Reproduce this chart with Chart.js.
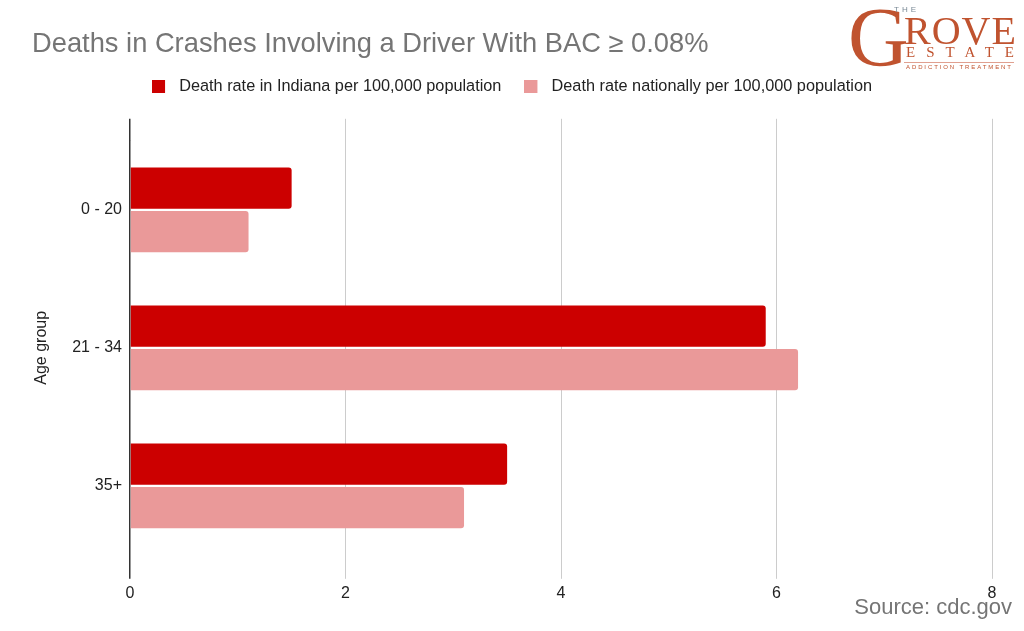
<!DOCTYPE html>
<html>
<head>
<meta charset="utf-8">
<script src="https://cdn.jsdelivr.net/npm/chart.js@4.4.1/dist/chart.umd.min.js"></script>
<style>
  html, body { margin: 0; padding: 0; background: #fff; }
  #wrap { position: relative; width: 1024px; height: 631px; }
  #zdroj { position: absolute; right: 12px; top: 596px; font-family: "Liberation Sans", Arial, sans-serif; font-size: 22px; line-height: 22px; color: #757575; }
  #logo { position: absolute; left: 848px; top: 2px; width: 170px; height: 72px; font-family: "Liberation Serif", "DejaVu Serif", serif; color: #c0532f; }
  #logo .g { position: absolute; left: 0; top: -6px; font-size: 84px; line-height: 84px; }
  #logo .the { position: absolute; left: 46px; top: 3px; font-family: "Liberation Sans", sans-serif; font-size: 8px; letter-spacing: 3px; color: #7a8a96; }
  #logo .rove { position: absolute; left: 56px; top: 9px; font-size: 40px; line-height: 40px; letter-spacing: 1px; }
  #logo .estate { position: absolute; left: 58px; top: 43px; font-size: 15px; line-height: 15px; letter-spacing: 11px; }
  #logo .rule { position: absolute; left: 56px; top: 60px; width: 110px; height: 1px; background: #e0a090; }
  #logo .addict { position: absolute; left: 58px; top: 62px; font-family: "Liberation Sans", sans-serif; font-size: 6px; letter-spacing: 1.9px; }
</style>
</head>
<body>
<div id="wrap">
  <canvas id="graf" width="1024" height="631"></canvas>
  <div id="zdroj">Source: cdc.gov</div>
  <div id="logo">
    <span class="g">G</span>
    <span class="the">THE</span>
    <span class="rove">ROVE</span>
    <span class="estate">ESTATE</span>
    <span class="rule"></span>
    <span class="addict">ADDICTION TREATMENT</span>
  </div>
</div>
<script>
const vekoveSkupiny = ["0 - 20", "21 - 34", "35+"];
const indiana = [1.5, 5.9, 3.5];
const celostatne = [1.1, 6.2, 3.1];
const osaX = [0, 2, 4, 6, 8];

const pismo = "Liberation Sans, Arial";
const barvaMrizky = c => c.index === 0 ? "#333" : "#ccc";
const sirkaMrizky = c => c.index === 0 ? 1.5 : 1;

// ctverecek legendy s mezerou vpravo (aby text zacinal dal od ctverecku)
function ctverecek(barva) {
    const c = document.createElement("canvas");
    c.width = 19;
    c.height = 13;
    const g = c.getContext("2d");
    g.fillStyle = barva;
    g.fillRect(0, 0, 13, 13);
    return c;
}

const ctx = document.getElementById("graf").getContext("2d");
new Chart(ctx, {
    type: "bar",
    data: {
        labels: vekoveSkupiny,
        datasets: [
            { label: "Death rate in Indiana per 100,000 population", data: indiana, backgroundColor: "#cc0000", xAxisID: "x" },
            { label: "Death rate nationally per 100,000 population", data: celostatne, backgroundColor: "#ea9999", xAxisID: "x" }
        ]
    },
    options: {
        indexAxis: "y",
        responsive: false,
        animation: false,
        categoryPercentage: 0.63,
        barPercentage: 0.95,
        borderRadius: { topRight: 3, bottomRight: 3, topLeft: 0, bottomLeft: 0 },
        borderSkipped: "start",
        layout: { padding: { left: 32, right: 32, top: 0, bottom: 23 } },
        plugins: {
            title: {
                display: true,
                text: "Deaths in Crashes Involving a Driver With BAC \u2265 0.08%",
                align: "start",
                color: "#757575",
                font: { family: pismo, size: 27.3, weight: "normal", lineHeight: 1 },
                padding: { top: 31, bottom: -3 }
            },
            legend: {
                position: "top",
                labels: {
                    usePointStyle: true,
                    pointStyleWidth: 19,
                    boxWidth: 13,
                    boxHeight: 13,
                    padding: 23,
                    color: "#222",
                    font: { family: pismo, size: 16.3 },
                    generateLabels: function(chart) {
                        const polozky = Chart.defaults.plugins.legend.labels.generateLabels(chart);
                        polozky.forEach(p => { p.pointStyle = ctverecek(p.fillStyle); });
                        return polozky;
                    }
                }
            },
            tooltip: { enabled: false }
        },
        scales: {
            x: {
                type: "linear",
                min: 0,
                max: 8,
                afterBuildTicks: function(osa) { osa.ticks = osaX.map(v => ({ value: v })); },
                border: { display: false },
                grid: { color: barvaMrizky, lineWidth: sirkaMrizky, tickLength: 24 },
                ticks: { color: "#222", padding: 5, font: { family: pismo, size: 16 } }
            },
            xTop: {
                type: "linear",
                position: "top",
                min: 0,
                max: 8,
                afterBuildTicks: function(osa) { osa.ticks = osaX.map(v => ({ value: v })); },
                border: { display: false },
                grid: { drawOnChartArea: false, color: barvaMrizky, lineWidth: sirkaMrizky, tickLength: 22 },
                ticks: { display: false },
                title: { display: true, text: " ", font: { size: 1 }, padding: { top: 13, bottom: 0 } }
            },
            y: {
                border: { display: false },
                grid: { display: false, drawTicks: false },
                ticks: { color: "#222", padding: 8, font: { family: pismo, size: 16 } },
                title: {
                    display: true,
                    text: "Age group",
                    color: "#222",
                    font: { family: pismo, size: 16 },
                    padding: { top: 0, bottom: 13 }
                }
            }
        }
    }
});
</script>
</body>
</html>
